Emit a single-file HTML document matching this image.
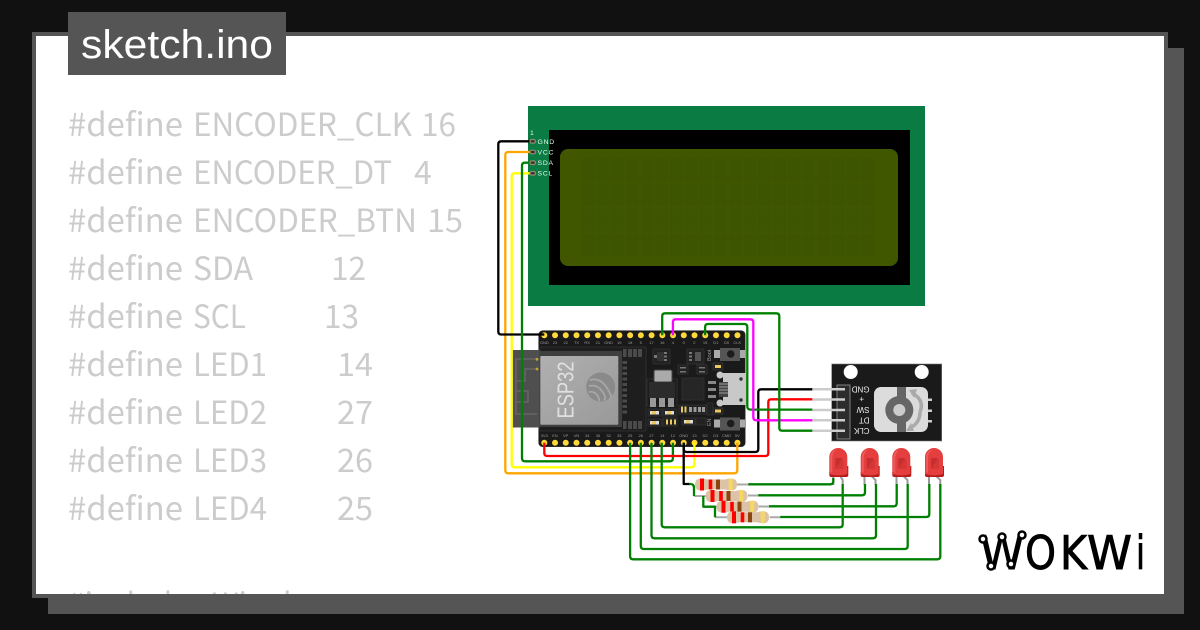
<!DOCTYPE html>
<html><head><meta charset="utf-8"><style>html,body{margin:0;padding:0;background:#111;width:1200px;height:630px;overflow:hidden}svg{display:block}</style></head>
<body>
<svg xmlns="http://www.w3.org/2000/svg" width="1200" height="630" viewBox="0 0 1200 630">
<defs>
<clipPath id="card"><rect x="36" y="36" width="1128" height="558"/></clipPath>
<pattern id="cells" x="582" y="158.5" width="14.7" height="25" patternUnits="userSpaceOnUse"><rect x="0" y="0" width="12.7" height="23" fill="#3d5400"/></pattern>
<linearGradient id="metal" x1="0" y1="0" x2="1" y2="1"><stop offset="0" stop-color="#b0b0b0"/><stop offset="1" stop-color="#999"/></linearGradient>
<g id="led">
<path d="M-9 24V27Q-9 29 -7 29H8Q10 29 10 27V18H8Z" fill="#b71c1c"/>
<path d="M-9 26V9A9 9 0 0 1 9 9V26Q0 29 -9 26Z" fill="#e53e3e"/>
<path d="M-8 24V9A8 8 0 0 1 -2 1.5Q-6 5 -6 10V25Z" fill="#f05a5a"/>
<path d="M-3 10H3L5 13V21H-3Z" fill="#c62f2f"/>
<path d="M-3 21L3 12L5 13V21Z" fill="#d63636"/>
</g>
<g id="res">
<path d="M0 6Q0 0 6 0Q10 0 12 1H30Q33 0 36 0Q42 0 42 6Q42 12 36 12Q33 12 30 11H12Q10 12 6 12Q0 12 0 6Z" fill="#dcc3a8"/>
<rect x="5" y="0" width="4" height="12" fill="#f00"/>
<rect x="13.700" y="1" width="3.600" height="10" fill="#f00"/>
<rect x="21" y="1" width="4" height="10" fill="#8b4513"/>
<rect x="33.700" y="0" width="4" height="12" fill="#f4d860"/>
</g>
</defs>
<rect width="1200" height="630" fill="#111"/>
<rect x="48" y="48" width="1136" height="566" fill="#555"/>
<rect x="32" y="32" width="1136" height="566" fill="#555"/>
<rect x="36" y="36" width="1128" height="558" fill="#fff"/>

<g clip-path="url(#card)" font-family="'Noto Sans CJK JP','DejaVu Sans',sans-serif" font-size="32" fill="#cccccc" font-weight="400">
<text x="68" y="136" textLength="115" lengthAdjust="spacingAndGlyphs">#define</text><text x="193" y="136" textLength="219" lengthAdjust="spacingAndGlyphs">ENCODER_CLK</text><text x="421" y="136" textLength="35" lengthAdjust="spacingAndGlyphs">16</text>
<text x="68" y="184" textLength="115" lengthAdjust="spacingAndGlyphs">#define</text><text x="193" y="184" textLength="199" lengthAdjust="spacingAndGlyphs">ENCODER_DT</text><text x="414" y="184">4</text>
<text x="68" y="232" textLength="115" lengthAdjust="spacingAndGlyphs">#define</text><text x="193" y="232" textLength="224" lengthAdjust="spacingAndGlyphs">ENCODER_BTN</text><text x="427" y="232" textLength="36" lengthAdjust="spacingAndGlyphs">15</text>
<text x="68" y="280" textLength="115" lengthAdjust="spacingAndGlyphs">#define</text><text x="193" y="280" textLength="60" lengthAdjust="spacingAndGlyphs">SDA</text><text x="331" y="280" textLength="35" lengthAdjust="spacingAndGlyphs">12</text>
<text x="68" y="328" textLength="115" lengthAdjust="spacingAndGlyphs">#define</text><text x="193" y="328" textLength="53" lengthAdjust="spacingAndGlyphs">SCL</text><text x="324" y="328" textLength="35" lengthAdjust="spacingAndGlyphs">13</text>
<text x="68" y="376" textLength="115" lengthAdjust="spacingAndGlyphs">#define</text><text x="193" y="376" textLength="74" lengthAdjust="spacingAndGlyphs">LED1</text><text x="337" y="376" textLength="36" lengthAdjust="spacingAndGlyphs">14</text>
<text x="68" y="424" textLength="115" lengthAdjust="spacingAndGlyphs">#define</text><text x="193" y="424" textLength="74" lengthAdjust="spacingAndGlyphs">LED2</text><text x="337" y="424" textLength="36" lengthAdjust="spacingAndGlyphs">27</text>
<text x="68" y="472" textLength="115" lengthAdjust="spacingAndGlyphs">#define</text><text x="193" y="472" textLength="74" lengthAdjust="spacingAndGlyphs">LED3</text><text x="337" y="472" textLength="36" lengthAdjust="spacingAndGlyphs">26</text>
<text x="68" y="520" textLength="115" lengthAdjust="spacingAndGlyphs">#define</text><text x="193" y="520" textLength="74" lengthAdjust="spacingAndGlyphs">LED4</text><text x="337" y="520" textLength="36" lengthAdjust="spacingAndGlyphs">25</text>
<text x="68" y="616" textLength="250" lengthAdjust="spacingAndGlyphs">#include &lt;Wire.h&gt;</text>
</g>

<rect x="68" y="12" width="218" height="63" fill="#555"/>
<text x="81" y="58" font-family="'Liberation Sans',sans-serif" font-size="40" fill="#fff" textLength="192" lengthAdjust="spacingAndGlyphs">sketch.ino</text>

<!-- LCD -->
<rect x="528" y="106" width="397" height="200" fill="#0a7c43"/>
<rect x="549" y="130" width="361" height="155" fill="#000"/>
<rect x="560" y="149" width="338" height="117" rx="8" fill="#405700"/>
<rect x="582" y="158.500" width="294" height="100" fill="url(#cells)"/>
<g font-family="'Liberation Sans',sans-serif" font-size="6.800" fill="#e8f5ec" letter-spacing=".8">
<text x="530" y="135">1</text>
<text x="537.500" y="144">GND</text>
<text x="537.500" y="154.500">VCC</text>
<text x="537.500" y="165">SDA</text>
<text x="537.500" y="175.500">SCL</text>
</g>

<!-- ESP32 board -->
<rect x="538.700" y="330.700" width="206.500" height="116" rx="4" fill="#1a1a1a" stroke="#333" stroke-width=".6"/>
<rect x="512.700" y="350" width="28" height="77.500" fill="#4f4f4f"/>
<g fill="none" stroke="#666" stroke-width="1.500"><path d="M537 359H516V414H537"/><path d="M537 369H525V381H516M516 391H528V402H516"/></g>
<circle cx="537" cy="359.300" r="1.400" fill="#c9a227"/><circle cx="537" cy="369" r="1.400" fill="#c9a227"/>
<rect x="540" y="347" width="106" height="84" rx="1" fill="#1e1e1e" stroke="#333" stroke-width=".8"/>
<rect x="540" y="351" width="82" height="76" fill="#3e3e3e"/>
<rect x="540.300" y="356" width="78" height="68.700" rx="1" fill="url(#metal)"/>
<circle cx="600.700" cy="387" r="14.500" fill="#8a8a8a"/>
<g fill="none" stroke="#a8a8a8" stroke-width="1.700"><path d="M590 380Q600 377 607 388T609 399"/><path d="M589 386Q597 384 602 391T604 400"/><path d="M589 392Q594 391 597 395T599 401"/></g>
<text transform="translate(573.300,418.500) rotate(-90)" font-family="'Liberation Sans',sans-serif" font-size="23" fill="#e0e0e0" textLength="57" lengthAdjust="spacingAndGlyphs">ESP32</text>
<g fill="#4a4a4a">
<rect x="623" y="349" width="3.500" height="8"/><rect x="628" y="349" width="4" height="8"/><rect x="633" y="349" width="4" height="8"/><rect x="638" y="349" width="4" height="8"/>
<rect x="623" y="421" width="3.500" height="8"/><rect x="628" y="421" width="4" height="8"/><rect x="633" y="421" width="4" height="8"/><rect x="638" y="421" width="4" height="8"/>
<rect x="622.500" y="361" width="4.500" height="3"/><rect x="622.500" y="366.500" width="4.500" height="3"/><rect x="622.500" y="372" width="4.500" height="3"/><rect x="622.500" y="377.500" width="4.500" height="3"/><rect x="622.500" y="383" width="4.500" height="3"/><rect x="622.500" y="388.500" width="4.500" height="3"/><rect x="622.500" y="394" width="4.500" height="3"/><rect x="622.500" y="399.500" width="4.500" height="3"/><rect x="622.500" y="405" width="4.500" height="3"/><rect x="622.500" y="410.500" width="4.500" height="3"/>
</g>
<!-- small components -->
<g stroke="#333" stroke-width=".8" fill="#222">
<rect x="653" y="349" width="17" height="15" rx="1"/><rect x="687" y="349" width="17" height="15" rx="1"/>
<rect x="678" y="365" width="10" height="9"/><rect x="697" y="365" width="10" height="9"/>
<rect x="647" y="379" width="30" height="27" fill="#1c1c1c"/>
<rect x="679" y="405" width="27" height="9"/><rect x="682" y="418" width="13" height="7"/><rect x="696" y="418" width="10" height="7"/>
<rect x="707" y="403" width="6" height="12"/><rect x="713" y="408" width="10" height="6"/><rect x="713" y="363" width="10" height="7"/>
<rect x="648" y="409" width="14" height="7"/><rect x="663" y="409" width="14" height="7"/><rect x="648" y="419" width="14" height="7"/><rect x="663" y="418" width="14" height="8"/>
</g>
<g fill="#777">
<rect x="657" y="352" width="7" height="9" fill="#333"/><rect x="664" y="352" width="3" height="2"/><rect x="664" y="355.500" width="3" height="2"/><rect x="664" y="359" width="3" height="2"/><rect x="654" y="355" width="3" height="3"/>
<rect x="695" y="352" width="6" height="9" fill="#555"/><rect x="689" y="352" width="3" height="2"/><rect x="689" y="355.500" width="3" height="2"/><rect x="689" y="359" width="3" height="2"/>
<rect x="680" y="367" width="6" height="1.500"/><rect x="680" y="371" width="6" height="1.500"/><rect x="699" y="367" width="6" height="1.500"/><rect x="699" y="371" width="6" height="1.500"/>
</g>
<rect x="654" y="370" width="18" height="12" rx="1.500" fill="#aaa" stroke="#444" stroke-width="1"/>
<rect x="649" y="382" width="26" height="16" fill="#2b2b2b"/>
<rect x="650" y="398" width="6" height="9" fill="#999"/><rect x="659" y="398" width="6" height="9" fill="#999"/><rect x="668" y="398" width="6" height="9" fill="#999"/>
<rect x="682" y="378" width="22" height="22" fill="#262626" stroke="#2f2f2f"/>
<g fill="#888"><rect x="708" y="381" width="8" height="3"/><rect x="708" y="388" width="8" height="3"/><rect x="708" y="395" width="8" height="3"/></g>
<g fill="#e8c860">
<rect x="650" y="411" width="9" height="3.500" fill="#ddd"/><rect x="652" y="411" width="4" height="3.500"/>
<rect x="665" y="411" width="9" height="3.500" fill="#ddd"/><rect x="667" y="411" width="4" height="3.500"/>
<rect x="650" y="421" width="9" height="3.500" fill="#ddd"/><rect x="652" y="421" width="4" height="3.500"/>
<rect x="666" y="419.500" width="2" height="5"/><rect x="670" y="419.500" width="2" height="5"/><rect x="674" y="419.500" width="2" height="5"/>
<rect x="684" y="420" width="9" height="3.500" fill="#ddd"/><rect x="686" y="420" width="4" height="3.500"/>
<rect x="715" y="365" width="6" height="3"/><rect x="715" y="409.500" width="6" height="3"/>
<rect x="681" y="406.500" width="2" height="6"/><rect x="684.500" y="406.500" width="2" height="6"/>
</g>
<g fill="#999"><rect x="689" y="407" width="3" height="5"/><rect x="693.500" y="407" width="3" height="5"/><rect x="698" y="407" width="3" height="5"/><rect x="702" y="407" width="3" height="5"/></g>
<!-- usb -->
<rect x="723" y="373" width="24" height="32" fill="#c8c8c8"/>
<circle cx="720" cy="375" r="3.500" fill="#c8c8c8"/><circle cx="720" cy="403" r="3.500" fill="#c8c8c8"/>
<rect x="719" y="382" width="9" height="15" fill="#444"/>
<path d="M719 384H728M719 387H728M719 390H728M719 393H728" stroke="#bbb" stroke-width=".8"/>
<circle cx="741" cy="379" r="1.700" fill="#333"/><circle cx="741" cy="400" r="1.700" fill="#333"/>
<!-- buttons -->
<rect x="714" y="350" width="6" height="8" fill="#aaa"/><rect x="739" y="350" width="6" height="8" fill="#aaa"/>
<rect x="720" y="348" width="20" height="13" fill="#555"/><circle cx="730.700" cy="354" r="3.800" fill="#1c1c1c"/>
<rect x="714" y="419.500" width="6" height="8" fill="#aaa"/><rect x="739" y="419.500" width="6" height="8" fill="#aaa"/>
<rect x="720" y="417.500" width="20" height="13" fill="#555"/><circle cx="730.700" cy="423.500" r="3.800" fill="#1c1c1c"/>
<g font-family="'Liberation Sans',sans-serif" font-size="5.500" fill="#999">
<text transform="translate(711,361) rotate(-90)">Boot</text>
<text transform="translate(711,426) rotate(-90)">EN</text>
</g>
<!-- pins -->
<line x1="544.300" y1="335.300" x2="737.500" y2="335.300" stroke="#ffd83a" stroke-width="6" stroke-linecap="round" stroke-dasharray="0 10.730"/>
<line x1="544.300" y1="442.700" x2="737.500" y2="442.700" stroke="#ffd83a" stroke-width="6" stroke-linecap="round" stroke-dasharray="0 10.730"/>
<g font-family="'Liberation Sans',sans-serif" font-size="4" fill="#999" text-anchor="middle">
<text x="544.300" y="344">GND</text><text x="555" y="344">23</text><text x="565.700" y="344">22</text><text x="576.500" y="344">TX</text><text x="587.200" y="344">RX</text><text x="597.900" y="344">21</text><text x="608.600" y="344">GND</text><text x="619.300" y="344">19</text><text x="630.100" y="344">18</text><text x="640.800" y="344">5</text><text x="651.500" y="344">17</text><text x="662.200" y="344">16</text><text x="672.900" y="344">4</text><text x="683.700" y="344">0</text><text x="694.400" y="344">2</text><text x="705.100" y="344">15</text><text x="715.800" y="344">D1</text><text x="726.600" y="344">D0</text><text x="737.300" y="344">CLK</text>
<text x="544.300" y="437">3V3</text><text x="555" y="437">EN</text><text x="565.700" y="437">VP</text><text x="576.500" y="437">VN</text><text x="587.200" y="437">34</text><text x="597.900" y="437">35</text><text x="608.600" y="437">32</text><text x="619.300" y="437">33</text><text x="630.100" y="437">25</text><text x="640.800" y="437">26</text><text x="651.500" y="437">27</text><text x="662.200" y="437">14</text><text x="672.900" y="437">12</text><text x="683.700" y="437">GND</text><text x="694.400" y="437">13</text><text x="705.100" y="437">D2</text><text x="715.800" y="437">D3</text><text x="726.600" y="437">CMD</text><text x="737.300" y="437">5V</text>
</g>

<!-- Encoder -->
<rect x="831.700" y="364" width="110" height="77" fill="#1a1a1a" stroke="#777" stroke-width=".6"/>
<circle cx="850.700" cy="372" r="7" fill="#fff"/><circle cx="921.700" cy="372" r="7" fill="#fff"/>
<rect x="837" y="385" width="13" height="54" fill="#2c2c2c" stroke="#999" stroke-width=".8"/>
<g font-family="'Liberation Sans',sans-serif" font-size="8" fill="#f0f0f0">
<text transform="translate(869.500,386.500) rotate(180)">GND</text>
<text transform="translate(864,396.500) rotate(180)">+</text>
<text transform="translate(869.500,407) rotate(180)">SW</text>
<text transform="translate(869.500,417.500) rotate(180)">DT</text>
<text transform="translate(869.500,428) rotate(180)">CLK</text>
</g>
<rect x="928" y="398.500" width="4" height="2.500" fill="#ccc"/><rect x="928" y="409.500" width="4" height="2.500" fill="#ccc"/><rect x="928" y="420" width="4" height="2.500" fill="#ccc"/>
<rect x="874" y="387" width="54" height="45" rx="7" fill="#dcdcdc"/>
<rect x="897" y="387" width="9" height="45" fill="#666"/>
<circle cx="899.300" cy="410" r="14" fill="#666"/><circle cx="899.300" cy="410" r="6" fill="#ccc"/>
<g fill="none" stroke="#aaa" stroke-width="3.500"><path d="M912 393Q925 400 920 412"/><path d="M920 412Q920 423 910 428"/></g>
<path d="M909 390L917 389L914 398Z" fill="#aaa"/><path d="M911 423L914 431L906 431Z" fill="#aaa"/>
<g stroke="#ccc" stroke-width="2.500"><path d="M812 389.300H845M812 399.500H845M812 410H845M812 420.300H845M812 430.700H845"/></g>

<!-- Resistors -->
<g stroke="#aaa" stroke-width="2" fill="none"><path d="M737 484.500H748.500M748 495.500H759M758.700 506.500H770M769.700 517.300H781M694 496H706M703.300 506.700H717M715 517.300H728"/></g>
<use href="#res" x="695" y="478.500"/>
<use href="#res" x="705.500" y="490"/>
<use href="#res" x="716.500" y="500.700"/>
<use href="#res" x="727" y="511.300"/>

<!-- LEDs -->
<g fill="none" stroke="#999" stroke-width="2">
<path d="M833.300 474V485M839.500 475L842.700 480V485"/>
<path d="M864.500 474V485M870.700 475L875.500 480V485"/>
<path d="M896.500 474V485M902.500 475L907.500 480V485"/>
<path d="M929 474V485M935 475L940.300 480V485"/>
</g>
<use href="#led" x="838.300" y="448"/>
<use href="#led" x="869.700" y="448"/>
<use href="#led" x="901.300" y="448"/>
<use href="#led" x="934" y="448"/>

<!-- Wires -->
<g fill="none" stroke-width="2.300" stroke-linejoin="round">
<path stroke="#ffa500" d="M532.700 152H508.300Q505.300 152 505.300 155V470.300Q505.300 473.300 508.300 473.300H734.300Q737.300 473.300 737.300 470.300V442.700"/>
<path stroke="#ff0" d="M532.700 173.300H514.700Q511.700 173.300 511.700 176.300V464.300Q511.700 467.300 514.700 467.300H691.400Q694.400 467.300 694.400 464.300V442.700"/>
<path stroke="#000" d="M532.700 141.300H501.300Q498.300 141.300 498.300 144.300V331.500Q498.300 334.500 501.300 334.500H544.300"/>
<path stroke="#008000" d="M532.700 162.700H525Q522 162.700 522 165.700V458.300Q522 461.300 525 461.300H669.900Q672.900 461.300 672.900 458.300V442.700"/>
<path stroke="#f00" d="M544.300 442.700V453Q544.300 456 547.300 456H765.300Q768.300 456 768.300 453V402.300Q768.300 399.300 771.300 399.300H812.300"/>
<path stroke="#000" d="M683.700 442.700V449Q683.700 452 686.700 452H755.300Q758.300 452 758.300 449V392.300Q758.300 389.300 761.300 389.300H812.300"/>
<path stroke="#000" d="M683.700 442.700V484H690"/>
<path stroke="#008000" d="M689 484H690.500Q694 484 694 488V496M703.300 496V506.700H715V517.300"/>
<path stroke="#008000" d="M705.100 335.300V327Q705.100 324 708.100 324H744.300Q747.300 324 747.300 327V406.300Q747.300 409.600 750.300 409.600H812.300"/>
<path stroke="#f0f" d="M672.900 335.300V322.300Q672.900 319.300 675.900 319.300H750.300Q753.300 319.300 753.300 322.300V417.300Q753.300 420.300 756.300 420.300H812.300"/>
<path stroke="#008000" d="M662.200 335.300V316.300Q662.200 313.300 665.200 313.300H776.300Q779.300 313.300 779.300 316.300V427.700Q779.300 430.700 782.300 430.700H812.300"/>
<path stroke="#008000" d="M748.300 484.300H830.300Q833.300 484.300 833.300 481.300V478"/>
<path stroke="#008000" d="M758.300 495.300H862Q865 495.300 865 492.300V484"/>
<path stroke="#008000" d="M769 506.300H893.700Q896.700 506.300 896.700 503.300V484"/>
<path stroke="#008000" d="M780.300 517H926.300Q929.300 517 929.300 514V484"/>
<path stroke="#008000" d="M842.700 484V524.300Q842.700 527.300 839.700 527.300H664.700Q661.700 527.300 661.700 524.300V442.700"/>
<path stroke="#008000" d="M876 484V535.300Q876 538.300 873 538.300H654.500Q651.500 538.300 651.500 535.300V442.700"/>
<path stroke="#008000" d="M907.700 484V546Q907.700 549 904.700 549H643.800Q640.800 549 640.800 546V442.700"/>
<path stroke="#008000" d="M940.300 484V556.300Q940.300 559.300 937.300 559.300H633.100Q630.100 559.300 630.100 556.300V442.700"/>
</g>
<!-- LCD pins on top of wires -->
<g fill="#333" stroke="#9a8a68" stroke-width="1.200">
<rect x="530" y="139.500" width="5.500" height="3.600" rx="1.800"/>
<rect x="530" y="150.200" width="5.500" height="3.600" rx="1.800"/>
<rect x="530" y="160.900" width="5.500" height="3.600" rx="1.800"/>
<rect x="530" y="171.500" width="5.500" height="3.600" rx="1.800"/>
</g>

<!-- Logo -->
<g font-family="'DejaVu Sans',sans-serif" font-size="46" fill="#000" stroke="#000" stroke-width=".9">
<text x="980" y="569" textLength="44" lengthAdjust="spacingAndGlyphs">W</text>
<text x="1025" y="569" textLength="31" lengthAdjust="spacingAndGlyphs">O</text>
<text x="1060" y="569" textLength="27" lengthAdjust="spacingAndGlyphs">K</text>
<text x="1087" y="569" textLength="45" lengthAdjust="spacingAndGlyphs">W</text>
<text x="1136" y="569" textLength="9" lengthAdjust="spacingAndGlyphs">i</text>
</g>
<g fill="#fff" stroke="#000" stroke-width="2.500">
<circle cx="983" cy="539" r="3.500"/><circle cx="1002" cy="537" r="3.500"/><circle cx="1022" cy="535" r="3.500"/><circle cx="991" cy="566" r="3.500"/><circle cx="1011" cy="564" r="3.500"/>
</g>
</svg>
</body></html>
